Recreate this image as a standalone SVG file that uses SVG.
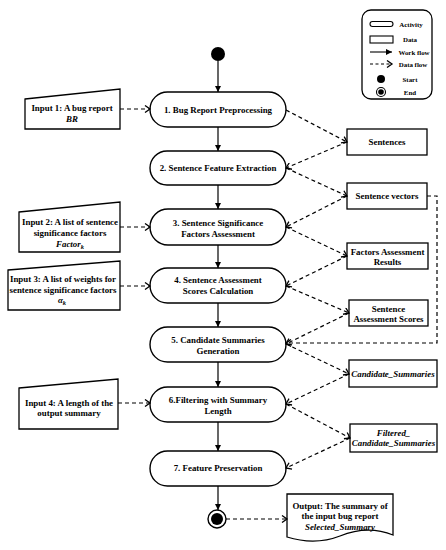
<svg xmlns="http://www.w3.org/2000/svg" width="446" height="550" viewBox="0 0 446 550">
<defs>
<marker id="solid" markerWidth="7" markerHeight="6" refX="6" refY="3" orient="auto" markerUnits="userSpaceOnUse"><path d="M0,0 L6,3 L0,6 Z" fill="#000"/></marker>
<marker id="open" markerWidth="8" markerHeight="8" refX="6" refY="4" orient="auto" markerUnits="userSpaceOnUse"><path d="M1,0.5 L6,4 L1,7.5" fill="none" stroke="#000" stroke-width="1.3"/></marker>
</defs>
<style>
.act{fill:#fff;stroke:#000;stroke-width:1.4}
.box{fill:#fff;stroke:#000;stroke-width:1.3}
.t{font-family:"Liberation Serif","Times New Roman",serif;font-weight:bold;font-size:8.9px;text-anchor:middle;fill:#000}
.i{font-style:italic}
.lg{font-family:"Liberation Serif","Times New Roman",serif;font-weight:bold;font-size:6.9px;text-anchor:middle;fill:#000}
.wf{fill:none;stroke:#000;stroke-width:1.2;marker-end:url(#solid)}
.df{fill:none;stroke:#000;stroke-width:1.2;stroke-dasharray:4,3;marker-end:url(#open)}
</style>
<rect width="446" height="550" fill="#fff"/>

<g id="legend">
<rect x="362" y="10" width="70" height="89" rx="9" fill="#fff" stroke="#000" stroke-width="1.3"/>
<rect x="370" y="21.5" width="23" height="5" rx="2.5" fill="#fff" stroke="#000" stroke-width="1.1"/>
<text class="lg" x="411" y="26.5">Activity</text>
<rect x="370" y="36" width="23" height="7" fill="#fff" stroke="#000" stroke-width="1.1"/>
<text class="lg" x="410" y="41.5">Data</text>
<line x1="370" y1="52" x2="392" y2="52" stroke="#000" stroke-width="1.1" marker-end="url(#solid)"/>
<text class="lg" x="414" y="54.5">Work flow</text>
<line x1="370" y1="64" x2="392" y2="64" stroke="#000" stroke-width="1.1" stroke-dasharray="3,2.5" marker-end="url(#open)"/>
<text class="lg" x="413" y="66.5">Data flow</text>
<circle cx="381" cy="79" r="4" fill="#000"/>
<text class="lg" x="410" y="81.5">Start</text>
<circle cx="381" cy="92" r="4.5" fill="#fff" stroke="#000" stroke-width="1.1"/>
<circle cx="381" cy="92" r="2.8" fill="#000"/>
<text class="lg" x="410" y="94.5">End</text>
</g>

<g id="start"><circle cx="218" cy="54" r="7" fill="#000"/></g>

<g id="act1"><rect class="act" x="150" y="92" width="136" height="35" rx="17.5"/><text class="t" x="218" y="112.5">1. Bug Report Preprocessing</text></g>
<g id="act2"><rect class="act" x="150" y="151" width="136" height="34" rx="17"/><text class="t" x="218" y="171">2. Sentence Feature Extraction</text></g>
<g id="act3"><rect class="act" x="150" y="209" width="136" height="36" rx="18"/><text class="t" x="218" y="226">3. Sentence Significance</text><text class="t" x="218" y="236.5">Factors Assessment</text></g>
<g id="act4"><rect class="act" x="150" y="268" width="136" height="35" rx="17.5"/><text class="t" x="218" y="283">4. Sentence Assessment</text><text class="t" x="218" y="293.5">Scores Calculation</text></g>
<g id="act5"><rect class="act" x="150" y="327" width="136" height="35" rx="17.5"/><text class="t" x="218" y="343">5. Candidate Summaries</text><text class="t" x="218" y="353.5">Generation</text></g>
<g id="act6"><rect class="act" x="150" y="387" width="136" height="35" rx="17.5"/><text class="t" x="218" y="403">6.Filtering with Summary</text><text class="t" x="218" y="413.5">Length</text></g>
<g id="act7"><rect class="act" x="150" y="451" width="136" height="35" rx="17.5"/><text class="t" x="218" y="471">7. Feature Preservation</text></g>

<g id="end"><circle cx="217" cy="519" r="9" fill="#fff" stroke="#000" stroke-width="1.4"/><circle cx="217" cy="519" r="6" fill="#000"/></g>

<g id="input1"><path class="box" d="M25,99 L120,89 L120,129 L25,129 Z"/><text class="t" x="72" y="111">Input 1: A bug report</text><text class="t i" x="72" y="121.5">BR</text></g>
<g id="input2"><path class="box" d="M19,212 L120,202 L120,252 L19,252 Z"/><text class="t" x="70" y="225">Input 2:  A list of sentence</text><text class="t" x="70" y="235.5">significance factors</text><text class="t i" x="70" y="246.5">Factor<tspan font-size="6.5px" dy="2">k</tspan></text></g>
<g id="input3"><path class="box" d="M8,270 L120,261 L120,310 L8,310 Z"/><text class="t" x="63" y="282">Input 3: A list of weights for</text><text class="t" x="63" y="292.5">sentence significance factors</text><text class="t i" x="62" y="302.5">α<tspan font-size="6.5px" dy="2">k</tspan></text></g>
<g id="input4"><path class="box" d="M19,388 L118,379 L118,429 L19,429 Z"/><text class="t" x="69" y="405.5">Input 4: A length of the</text><text class="t" x="69" y="416">output summary</text></g>

<g id="sentences"><rect class="box" x="347" y="129" width="80" height="26"/><text class="t" x="387" y="145">Sentences</text></g>
<g id="sentence-vectors"><rect class="box" x="347" y="183" width="80" height="26"/><text class="t" x="387" y="199">Sentence vectors</text></g>
<g id="factors-results"><rect class="box" x="347" y="243" width="81" height="26"/><text class="t" x="387.5" y="254.5">Factors Assessment</text><text class="t" x="387.5" y="265">Results</text></g>
<g id="assessment-scores"><rect class="box" x="349" y="300" width="79" height="26"/><text class="t" x="388.5" y="311.5">Sentence</text><text class="t" x="388.5" y="322">Assessment Scores</text></g>
<g id="candidate-summaries"><rect class="box" x="349" y="360" width="88" height="27"/><text class="t i" x="393" y="376.5">Candidate_Summaries</text></g>
<g id="filtered"><rect class="box" x="350" y="424" width="87" height="28"/><text class="t i" x="393.5" y="435.5">Filtered_</text><text class="t i" x="393.5" y="446">Candidate_Summaries</text></g>
<g id="output"><path class="box" d="M287,494 H393 V535 C373,527 355,530 340,536 C322,543 303,542 287,537 Z"/><text class="t" x="340" y="508.5">Output: The summary of</text><text class="t" x="340" y="519">the input bug report</text><text class="t i" x="340" y="529.5">Selected_Summary</text></g>

<g id="connectors">
<line class="wf" x1="218" y1="61" x2="218" y2="92"/>
<line class="wf" x1="218" y1="127" x2="218" y2="151"/>
<line class="wf" x1="218" y1="185" x2="218" y2="209"/>
<line class="wf" x1="218" y1="245" x2="218" y2="268"/>
<line class="wf" x1="218" y1="303" x2="218" y2="327"/>
<line class="wf" x1="218" y1="362" x2="218" y2="387"/>
<line class="wf" x1="218" y1="422" x2="218" y2="451"/>
<line class="wf" x1="218" y1="486" x2="218" y2="510"/>

<line class="df" x1="120" y1="109" x2="150" y2="109"/>
<line class="df" x1="120" y1="227" x2="150" y2="227"/>
<line class="df" x1="120" y1="286" x2="150" y2="286"/>
<line class="df" x1="118" y1="403" x2="150" y2="403"/>

<line class="df" x1="286" y1="110" x2="347" y2="142"/>
<line class="df" x1="347" y1="142" x2="286" y2="168"/>
<line class="df" x1="286" y1="168" x2="347" y2="196"/>
<line class="df" x1="347" y1="196" x2="286" y2="227"/>
<line class="df" x1="286" y1="227" x2="347" y2="256"/>
<line class="df" x1="347" y1="256" x2="286" y2="286"/>
<line class="df" x1="286" y1="286" x2="349" y2="313"/>
<line class="df" x1="349" y1="313" x2="286" y2="344"/>
<path class="df" d="M427,196 H437 V343 H286"/>
<line class="df" x1="286" y1="344" x2="349" y2="374"/>
<line class="df" x1="349" y1="374" x2="286" y2="404"/>
<line class="df" x1="286" y1="404" x2="350" y2="438"/>
<line class="df" x1="350" y1="438" x2="286" y2="468"/>
<line class="df" x1="226" y1="519" x2="287" y2="519"/>
</g>
</svg>
